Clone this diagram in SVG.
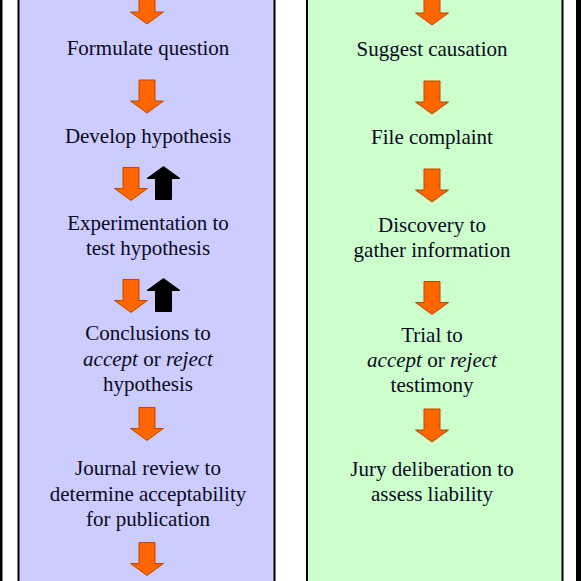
<svg xmlns="http://www.w3.org/2000/svg" xmlns:xlink="http://www.w3.org/1999/xlink" width="581" height="581" viewBox="0 0 581 581">
<defs>
<style>
.panel{stroke:#000;stroke-width:2}
.lbl{font-family:'Liberation Serif','Times New Roman',serif;font-size:21px;fill:#0a0a22;text-anchor:middle}
.it{font-style:italic}
</style>
<path id="down" d="M8.5,0 H24.5 V21 H33 L16.5,33 L0,21 H8.5 Z" fill="#ff6600" stroke="#b84a00" stroke-width="1"/>
<path id="up" d="M8.5,33 H24.5 V12 H33 L16.5,0 L0,12 H8.5 Z" fill="#000" stroke="#000" stroke-width="1"/>
</defs>
<rect width="581" height="581" fill="#fff"/>
<rect x="0" y="0" width="2.5" height="581" fill="#000"/>
<rect x="576" y="0" width="5" height="581" fill="#000"/>
<g id="panel-science">
<rect class="panel" x="18.5" y="-5" width="256" height="591" fill="#ccccff"/>
</g>
<g id="panel-law">
<rect class="panel" x="307" y="-5" width="255.5" height="591" fill="#ccffcc"/>
</g>
<g id="connectors">
<use xlink:href="#down" x="130.5" y="-9"/>
<use xlink:href="#down" x="130.5" y="80"/>
<use xlink:href="#down" x="114.5" y="167.5"/>
<use xlink:href="#up" x="147" y="166.5"/>
<use xlink:href="#down" x="114.5" y="279.5"/>
<use xlink:href="#up" x="147" y="278.5"/>
<use xlink:href="#down" x="130.5" y="407.5"/>
<use xlink:href="#down" x="130.5" y="542.5"/>
<use xlink:href="#down" x="415.5" y="-8"/>
<use xlink:href="#down" x="415.5" y="81"/>
<use xlink:href="#down" x="415.5" y="169"/>
<use xlink:href="#down" x="415.5" y="281.5"/>
<use xlink:href="#down" x="415.5" y="409"/>
</g>
<g id="n-formulate"><text class="lbl" x="148" y="55">Formulate question</text></g>
<g id="n-develop"><text class="lbl" x="148" y="143">Develop hypothesis</text></g>
<g id="n-experiment"><text class="lbl" x="148" y="230">Experimentation to</text><text class="lbl" x="148" y="255">test hypothesis</text></g>
<g id="n-conclusions"><text class="lbl" x="148" y="340">Conclusions to</text><text class="lbl" x="148" y="366"><tspan class="it">accept</tspan> or <tspan class="it">reject</tspan></text><text class="lbl" x="148" y="391">hypothesis</text></g>
<g id="n-journal"><text class="lbl" x="148" y="475">Journal review to</text><text class="lbl" x="148" y="501">determine acceptability</text><text class="lbl" x="148" y="526">for publication</text></g>
<g id="n-suggest"><text class="lbl" x="432" y="56">Suggest causation</text></g>
<g id="n-file"><text class="lbl" x="432" y="144">File complaint</text></g>
<g id="n-discovery"><text class="lbl" x="432" y="232">Discovery to</text><text class="lbl" x="432" y="257">gather information</text></g>
<g id="n-trial"><text class="lbl" x="432" y="342">Trial to</text><text class="lbl" x="432" y="367"><tspan class="it">accept</tspan> or <tspan class="it">reject</tspan></text><text class="lbl" x="432" y="392">testimony</text></g>
<g id="n-jury"><text class="lbl" x="432" y="476">Jury deliberation to</text><text class="lbl" x="432" y="501">assess liability</text></g>
</svg>
